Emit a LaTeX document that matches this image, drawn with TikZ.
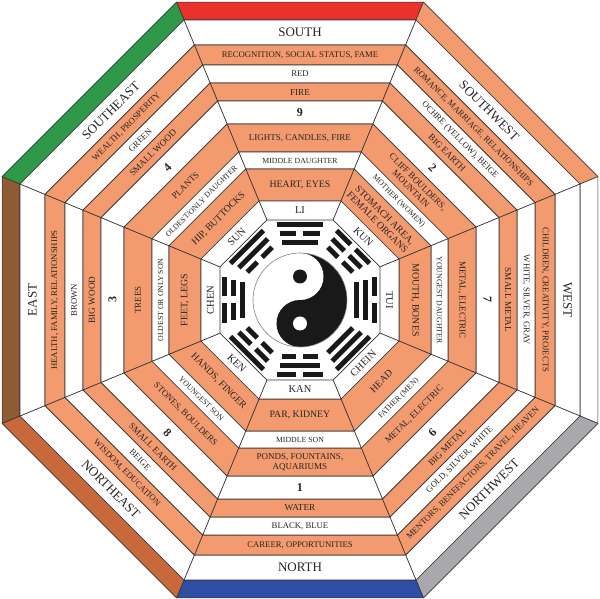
\documentclass[tikz,border=0pt]{standalone}
\usepackage{fontspec}
\setmainfont{Liberation Serif}
\usetikzlibrary{positioning}
\definecolor{bagua}{HTML}{F39A6E}
\definecolor{bred}{HTML}{E8322B}
\definecolor{bgreen}{HTML}{2E9A47}
\definecolor{bblue}{HTML}{2E4FA3}
\definecolor{bgray}{HTML}{A8A8AD}
\definecolor{bbrown}{HTML}{8E5B34}
\definecolor{bclay}{HTML}{C9683A}
\tikzset{seg/.style={draw=black!80,line width=0.6pt,line join=round},
         ringtext/.style={text=black!85,inner sep=0pt,align=center,font=\fontsize{8.7}{9}\selectfont},
         dirtext/.style={ringtext,font=\fontsize{13}{14}\selectfont},
         numtext/.style={ringtext,font=\fontsize{12}{13}\selectfont\bfseries},
         famtext/.style={ringtext,font=\fontsize{7.8}{8}\selectfont},
         tritext/.style={ringtext,font=\fontsize{10.5}{11}\selectfont},
         trigram/.style={line width=5pt,black!90},
}
\newcommand{\trline}[2]{%
  \ifnum#2=1
    \draw[trigram] ({-0.31*#1},#1) -- ({0.31*#1},#1);
  \else
    \draw[trigram] ({-0.31*#1},#1) -- (-3.5,#1);
    \draw[trigram] (3.5,#1) -- ({0.31*#1},#1);
  \fi}
\begin{document}
\begin{tikzpicture}[x=1pt,y=1pt]
\useasboundingbox (-300,-299) rectangle (300,300);
% colour band
\foreach \ang/\bc in {90/bred,45/bagua,0/white,-45/bgray,-90/bblue,-135/bclay,180/bbrown,135/bgreen}
  \filldraw[seg,fill=\bc] (\ang-22.5:322.5) -- (\ang+22.5:322.5) -- (\ang+22.5:303.1) -- (\ang-22.5:303.1) -- cycle;
% rings
\foreach \ao/\ai/\fc in {280/255/white,255/235/bagua,235/217/white,217/199/bagua,199/176/white,
                         176/148/bagua,148/131/white,131/99/bagua,99/80/white}
  \foreach \ang in {90,45,0,-45,-90,-135,180,135}
    \filldraw[seg,fill=\fc] (\ang-22.5:1.0824*\ao) -- (\ang+22.5:1.0824*\ao) -- (\ang+22.5:1.0824*\ai) -- (\ang-22.5:1.0824*\ai) -- cycle;
% texts
\foreach \ang/\dir/\asp/\clr/\elem/\num/\obj/\fam/\body/\tri [count=\k] in {
  90/SOUTH/{RECOGNITION, SOCIAL STATUS, FAME}/RED/FIRE/9/{LIGHTS, CANDLES, FIRE}/{MIDDLE DAUGHTER}/{HEART, EYES}/LI,
  45/SOUTHWEST/{ROMANCE, MARRIAGE, RELATIONSHIPS}/{OCHRE (YELLOW), BEIGE}/{BIG EARTH}/2/{CLIFF BOULDERS,\\MOUNTAIN}/{MOTHER (WOMEN)}/{STOMACH AREA,\\FEMALE ORGANS}/KUN,
  0/WEST/{CHILDREN, CREATIVITY, PROJECTS}/{WHITE, SILVER, GRAY}/{SMALL METAL}/7/{METAL, ELECTRIC}/{YOUNGEST DAUGHTER}/{MOUTH, BONES}/TUI,
  -45/NORTHWEST/{MENTORS, BENEFACTORS, TRAVEL, HEAVEN}/{GOLD, SILVER, WHITE}/{BIG METAL}/6/{METAL, ELECTRIC}/{FATHER (MEN)}/HEAD/CHEIN,
  -90/NORTH/{CAREER, OPPORTUNITIES}/{BLACK, BLUE}/WATER/1/{PONDS, FOUNTAINS,\\AQUARIUMS}/{MIDDLE SON}/{PAR, KIDNEY}/KAN,
  -135/NORTHEAST/{WISDOM, EDUCATION}/BEIGE/{SMALL EARTH}/8/{STONES, BOULDERS}/{YOUNGEST SON}/{HANDS, FINGER}/KEN,
  180/EAST/{HEALTH, FAMILY, RELATIONSHIPS}/BROWN/{BIG WOOD}/3/TREES/{OLDEST OR ONLY SON}/{FEET, LEGS}/CHEN,
  135/SOUTHEAST/{WEALTH, PROSPERITY}/GREEN/{SMALL WOOD}/4/PLANTS/{OLDEST/ONLY DAUGHTER}/{HIP, BUTTOCKS}/SUN}
{
  \pgfmathsetmacro\rot{\ang>=0 ? \ang-90 : \ang+90}
  \node[dirtext,rotate=\rot] (dir\k) at (\ang:267.5) {\dir};
  \node[ringtext,rotate=\rot] (asp\k) at (\ang:245) {\asp};
  \node[ringtext,rotate=\rot] (clr\k) at (\ang:226) {\clr};
  \node[ringtext,rotate=\rot,font=\fontsize{9.2}{9.5}\selectfont] (elem\k) at (\ang:208) {\elem};
  \node[numtext,rotate=\rot] (num\k) at (\ang:187.5) {\num};
  \node[ringtext,rotate=\rot,font=\fontsize{9}{10}\selectfont] (obj\k) at (\ang:162) {\obj};
  \node[famtext,rotate=\rot] (fam\k) at (\ang:139.5) {\fam};
  \node[ringtext,rotate=\rot,font=\fontsize{9.8}{10.5}\selectfont] (body\k) at (\ang:115) {\body};
  \node[tritext,rotate=\rot] (tri\k) at (\ang:89.5) {\tri};
}
% trigrams, outer line first
\foreach \ang/\pa/\pb/\pc in {90/1/0/1,45/0/0/0,0/0/1/1,-45/1/1/1,-90/0/1/0,-135/1/0/0,180/0/0/1,135/1/1/0}
{
  \begin{scope}[rotate=\ang-90]
    \trline{75}{\pa}
    \trline{66}{\pb}
    \trline{57}{\pc}
  \end{scope}
}
% yin yang
\fill[black!90] (0,47) arc (90:-90:47) -- cycle;
\fill[white] (0,23.5) circle (23.5);
\fill[black!90] (0,-23.5) circle (23.5);
\fill[black!90] (0,23.5) circle (7);
\fill[white] (0,-23.5) circle (7);
\draw[black!50,line width=0.6pt] (0,0) circle (47);
\end{tikzpicture}
\end{document}
